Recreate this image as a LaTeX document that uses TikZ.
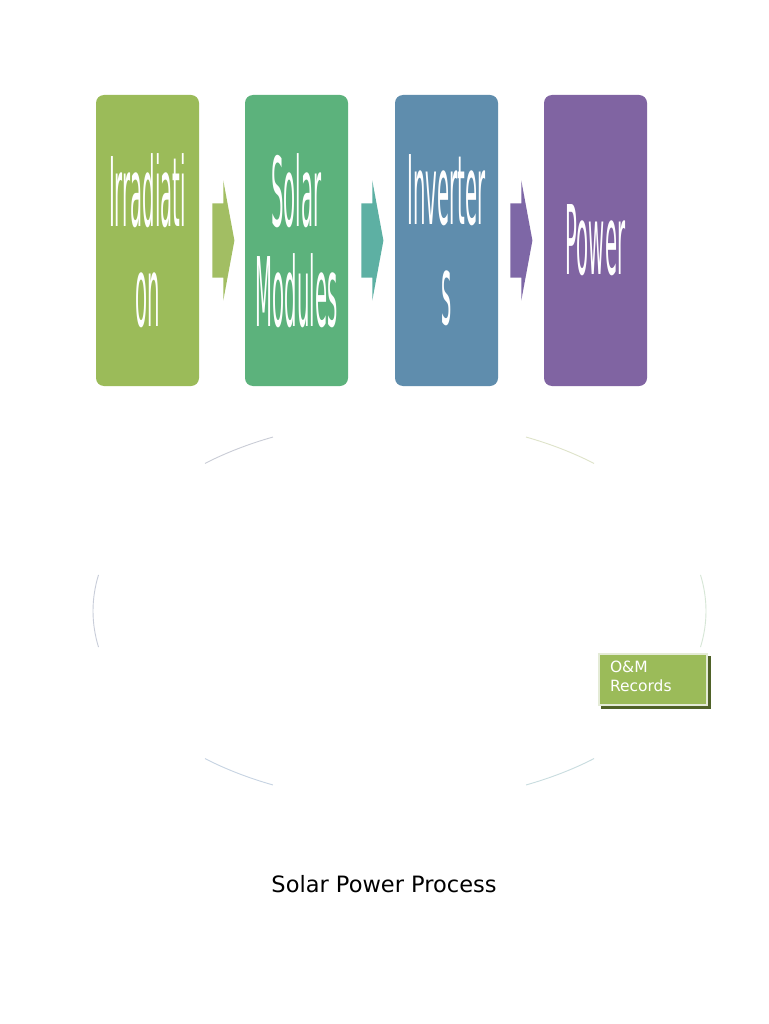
\documentclass[tikz,border=0pt]{standalone}
\usepackage{fontspec}
\setmainfont{DejaVu Sans}
\newfontfamily\condfont{DejaVu Sans}[FakeStretch=0.205]
\usetikzlibrary{shapes.arrows,calc}
\definecolor{cA}{HTML}{9BBB59}
\definecolor{cAa}{HTML}{A2BE63}
\definecolor{cB}{HTML}{5CB27C}
\definecolor{cBa}{HTML}{5DB0A3}
\definecolor{cC}{HTML}{5F8DAD}
\definecolor{cCa}{HTML}{7E67A6}
\definecolor{cD}{HTML}{8064A2}
\definecolor{omborder}{HTML}{E4EBD6}
\definecolor{omshadow}{HTML}{4F6228}
\definecolor{arcTL}{HTML}{C9CCD6}
\definecolor{arcTR}{HTML}{DEE3C9}
\definecolor{arcR}{HTML}{D6E6D6}
\definecolor{arcL}{HTML}{C8CDD9}
\definecolor{arcBL}{HTML}{C6D3E2}
\definecolor{arcBR}{HTML}{C8DCDF}
\tikzset{
  procbox/.style={rounded corners=8pt, minimum width=103pt, minimum height=291pt,
    inner sep=0pt, text=white, align=center,
    font=\condfont\fontsize{96}{100}\selectfont},
  blockarrow/.style={single arrow, draw=none, inner sep=0pt, minimum width=0pt,
    minimum height=22pt, single arrow head extend=23pt, single arrow tip angle=159,
    anchor=west},
  cyclearc/.style={line width=0.9pt},
  ombox/.style={draw=omborder, line width=2.5pt, fill=cA, text=white,
    minimum width=107.5pt, minimum height=51pt, text width=86pt, inner xsep=11pt,
    align=left, font=\fontsize{15.5}{19}\selectfont},
  titletext/.style={font=\fontsize{22.5}{26}\selectfont, text=black}
}
\begin{document}
\begin{tikzpicture}[x=1pt,y=-1pt]
\useasboundingbox[fill=white] (0,0) rectangle (768,1024);
% process boxes
\node[procbox, fill=cA] (b1) at (147.5,240.5) {Irradiati\\on};
\node[procbox, fill=cB] (b2) at (296.5,240.5) {Solar\\Modules};
\node[procbox, fill=cC] (b3) at (446.5,240.5) {Inverter\\s};
\node[procbox, fill=cD] (b4) at (595.5,240.5) {Power};
% block arrows
\node[blockarrow, fill=cAa] (a1) at ([xshift=13pt]b1.east) {\rule{0pt}{74pt}};
\node[blockarrow, fill=cBa] (a2) at ([xshift=13pt]b2.east) {\rule{0pt}{74pt}};
\node[blockarrow, fill=cCa] (a3) at ([xshift=12pt]b3.east) {\rule{0pt}{74pt}};
% cycle arcs
\coordinate (c) at (399.5,611);
\draw[cyclearc, arcTL] ([shift={(114.4:306.5pt and 191pt)}]c) arc[start angle=114.4, end angle=129.4, x radius=306.5pt, y radius=191pt];
\draw[cyclearc, arcTR] ([shift={(50.6:306.5pt and 191pt)}]c) arc[start angle=50.6, end angle=65.6, x radius=306.5pt, y radius=191pt];
\draw[cyclearc, arcR] ([shift={(-10.9:306.5pt and 191pt)}]c) arc[start angle=-10.9, end angle=10.9, x radius=306.5pt, y radius=191pt];
\draw[cyclearc, arcBR] ([shift={(-65.6:306.5pt and 191pt)}]c) arc[start angle=-65.6, end angle=-50.6, x radius=306.5pt, y radius=191pt];
\draw[cyclearc, arcBL] ([shift={(-129.4:306.5pt and 191pt)}]c) arc[start angle=-129.4, end angle=-114.4, x radius=306.5pt, y radius=191pt];
\draw[cyclearc, arcL] ([shift={(169.1:306.5pt and 191pt)}]c) arc[start angle=169.1, end angle=190.9, x radius=306.5pt, y radius=191pt];
% O&M records box with shadow
\fill[omshadow] (601,656) rectangle (710.5,709);
\node[ombox] (om) at (653,679.5) {O\&M\\Records\rule[-6pt]{0pt}{0pt}};
% title
\node[titletext, anchor=base] (title) at (384,892) {Solar Power Process};
\end{tikzpicture}
\end{document}
